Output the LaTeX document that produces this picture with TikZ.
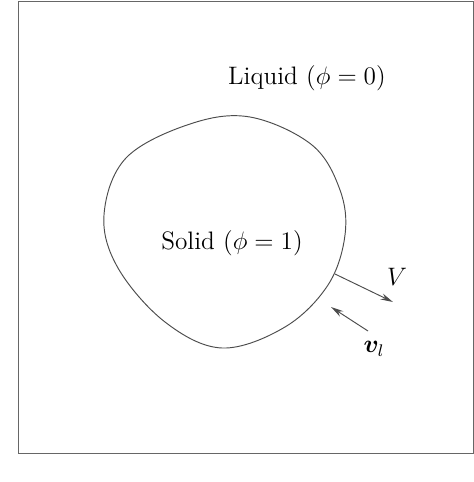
\documentclass[tikz,border=0pt]{standalone}
\usetikzlibrary{arrows.meta}
\usepackage{amsmath}
\usepackage{bm}

\begin{document}
\begin{tikzpicture}[x=0.475pt, y=-0.475pt, line width=0.45pt, draw=black!70,
    every node/.style={inner sep=1pt, font=\large},
    flow/.style={-{Stealth[length=6pt,width=3pt]}}]
    \useasboundingbox (0,0) rectangle (474,482);
    \draw[black!60] (18,1) rectangle (473,453);

    % interface
    \draw plot[smooth cycle, tension=0.6] coordinates {
        (104,215) (126,158) (190,124) (250,117) (312,145)
        (340,190) (345,235) (328,285) (285,327) (222,348)
        (165,322) (118,268)};

    \node (liquid) at (307,78) {Liquid ($\phi = 0$)};
    \node (solid) at (232,243) {Solid ($\phi = 1$)};

    \coordinate (v0) at (335,274);
    \coordinate (v1) at (393,302);
    \coordinate (l0) at (368,331);
    \coordinate (l1) at (331,307);
    \node (vlab) at (397,277) {$V$};
    \node (llab) at (374,349) {$\bm{v}_l$};

    \path[flow]
        (v0) edge (v1)
        (l0) edge (l1);
\end{tikzpicture}
\end{document}
